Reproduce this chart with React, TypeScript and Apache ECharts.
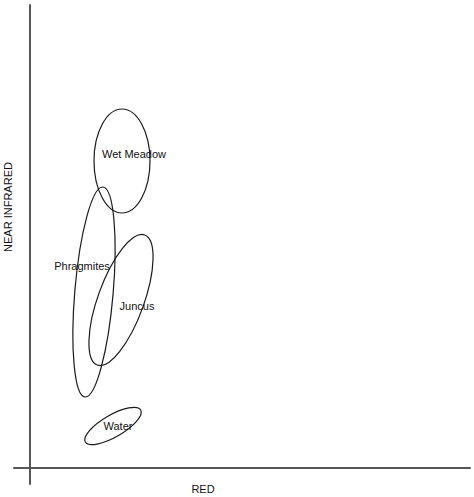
import React, { useEffect, useRef } from "react";
import * as echarts from "echarts";

// Spectral classes drawn as ellipses in RED / NEAR INFRARED space (arbitrary units)
const classNames = ["Wet Meadow", "Phragmites", "Juncus", "Water"];
const centerRed = [46, 32, 45.5, 41.5];
const centerNir = [153.5, 88, 84, 21];
const semiAxisRed = [14, 9.6, 11.5, 16];
const semiAxisNir = [26, 52.7, 34.6, 5.5];
const tiltDeg = [0, -4.9, -20, 30];
const labelRed = [52, 26, 53.5, 44];
const labelNir = [157, 101, 81, 21];

const xTitle = "RED";
const yTitle = "NEAR INFRARED";

export default function App() {
  const ref = useRef<HTMLDivElement>(null);
  useEffect(() => {
    document.body.style.margin = "0";
    const chart = echarts.init(ref.current!, undefined, { renderer: "svg" });
    const data = classNames.map((n, i) => [
      centerRed[i],
      centerNir[i],
      semiAxisRed[i],
      semiAxisNir[i],
      tiltDeg[i],
      labelRed[i],
      labelNir[i],
    ]);
    const axisLine = { show: true, onZero: true, lineStyle: { color: "#555", width: 2 } };
    chart.setOption({
      animation: false,
      backgroundColor: "#fff",
      grid: { left: 14, right: 4, top: 5, bottom: 13, containLabel: false },
      xAxis: {
        type: "value",
        min: -8,
        max: 220,
        axisLine,
        axisTick: { show: false },
        axisLabel: { show: false },
        splitLine: { show: false },
      },
      yAxis: {
        type: "value",
        min: -8,
        max: 231.5,
        axisLine,
        axisTick: { show: false },
        axisLabel: { show: false },
        splitLine: { show: false },
      },
      graphic: [
        {
          type: "text",
          x: 203,
          y: 489,
          style: {
            text: xTitle,
            fontFamily: "Liberation Sans",
            fontSize: 11,
            fill: "#111",
            align: "center",
            verticalAlign: "middle",
          },
        },
        {
          type: "text",
          x: 8,
          y: 207,
          rotation: Math.PI / 2,
          style: {
            text: yTitle,
            fontFamily: "Liberation Sans",
            fontSize: 11,
            fill: "#111",
            align: "center",
            verticalAlign: "middle",
          },
        },
      ],
      series: [
        {
          type: "custom",
          clip: false,
          data,
          renderItem: (params: any, api: any) => {
            const c = api.coord([api.value(0), api.value(1)]);
            const s = api.size([api.value(2), api.value(3)]);
            const l = api.coord([api.value(5), api.value(6)]);
            return {
              type: "group",
              children: [
                {
                  type: "ellipse",
                  x: c[0],
                  y: c[1],
                  rotation: (api.value(4) * Math.PI) / 180,
                  shape: { cx: 0, cy: 0, rx: s[0], ry: s[1] },
                  style: { fill: "none", stroke: "#1a1a1a", lineWidth: 1.2 },
                },
                {
                  type: "text",
                  x: l[0],
                  y: l[1],
                  style: {
                    text: classNames[params.dataIndex],
                    fontFamily: "Liberation Sans",
                    fontSize: 11,
                    fill: "#111",
                    align: "center",
                    verticalAlign: "middle",
                  },
                },
              ],
            };
          },
        },
      ],
    });
    return () => chart.dispose();
  }, []);
  return <div ref={ref} style={{ width: 474, height: 497 }} />;
}
